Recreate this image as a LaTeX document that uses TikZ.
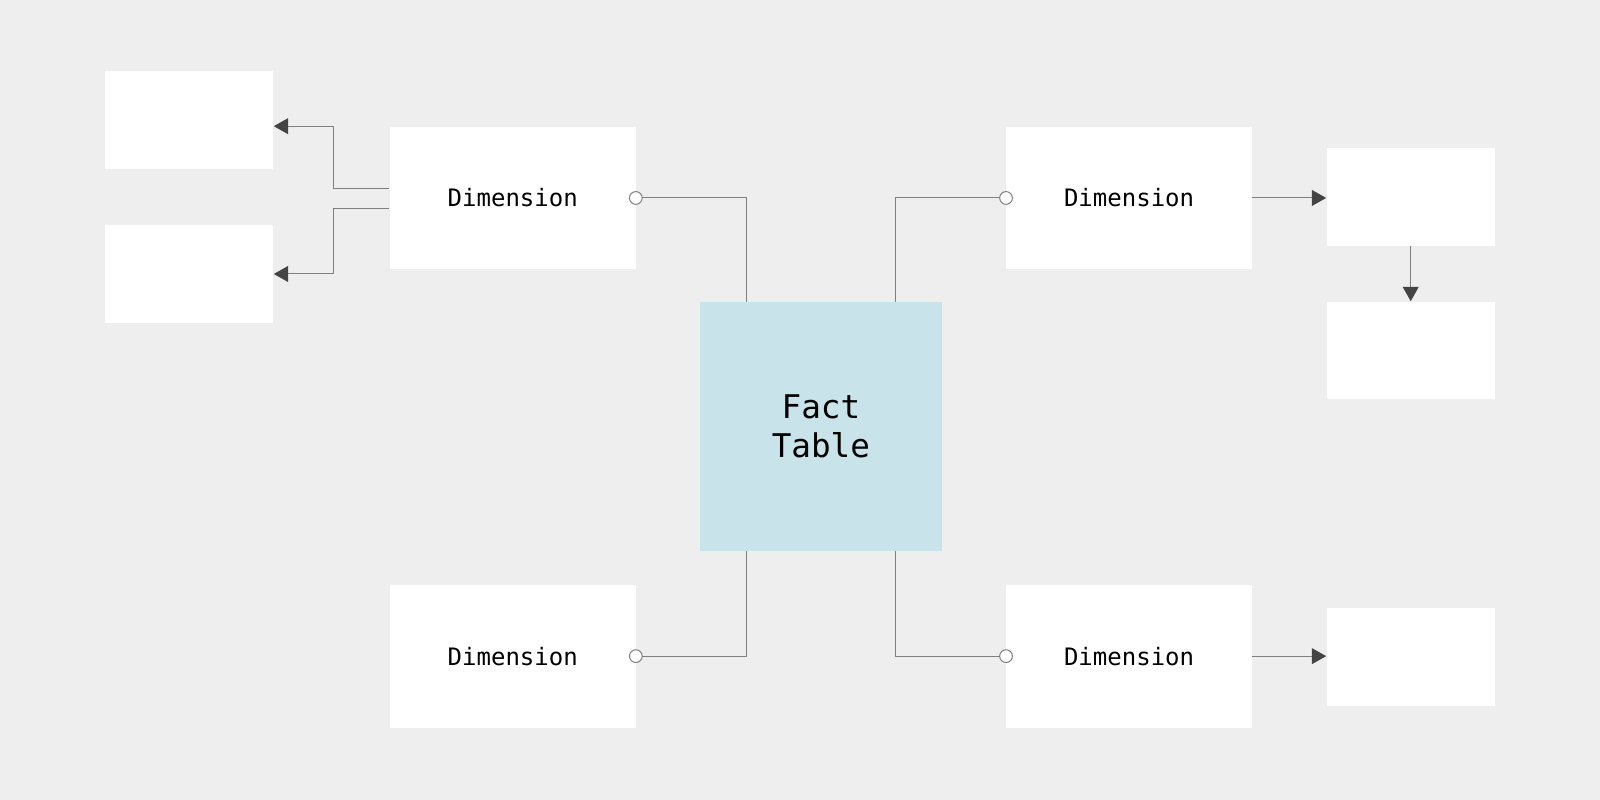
\documentclass[tikz,border=0pt]{standalone}
\usepackage{fontspec}
\setmonofont{DejaVu Sans Mono}
\usepackage{tikz}
\usetikzlibrary{arrows.meta, positioning}

\definecolor{bggray}{HTML}{EEEEEE}
\definecolor{factblue}{HTML}{C9E3EA}
\definecolor{linkgray}{HTML}{808080}
\definecolor{tipgray}{HTML}{444444}

\begin{document}
\begin{tikzpicture}[x=0.02cm, y=-0.02cm,
    dimbox/.style={fill=white, minimum width=4.82cm, minimum height=2.8cm, inner sep=0pt,
        font=\ttfamily\fontsize{13.4}{16}\selectfont, text=black},
    leafbox/.style={fill=white, minimum width=3.3cm, minimum height=1.92cm, inner sep=0pt},
    factbox/.style={fill=factblue, minimum width=4.74cm, minimum height=4.88cm, inner sep=0pt,
        align=center, font=\ttfamily\fontsize{18.2}{21.5}\selectfont, text=black},
    link/.style={draw=linkgray, line width=0.02cm,
        {Circle[fill=white, length=0.27cm, width=0.27cm, line width=0.02cm]}-},
    arr/.style={draw=linkgray, line width=0.02cm,
        -{Triangle[length=0.28cm, width=0.31cm, fill=tipgray, color=tipgray]}}]
        % Background
        \fill[bggray] (0,0) rectangle (1568,784);

        % Fact table and dimensions
        \node[factbox] (fact) at (804.5,418) {Fact\\Table};
        \node[dimbox] (dimTL) at (502.5,194) {Dimension};
        \node[dimbox] (dimTR) at (1106.5,194) {Dimension};
        \node[dimbox] (dimBL) at (502.5,643) {Dimension};
        \node[dimbox] (dimBR) at (1106.5,643) {Dimension};

        % Sub dimensions
        \node[leafbox] (leafA) at (185.5,118) {};
        \node[leafbox] (leafB) at (185.5,268.5) {};
        \node[leafbox] (leafC) at (1382.5,193) {};
        \node[leafbox] (leafD) at (1382.5,343.5) {};
        \node[leafbox] (leafE) at (1382.5,643.5) {};

        % Links to the fact table
        \draw[link] ([xshift=-0.14cm]dimTL.east) -| ([xshift=-1.46cm]fact.north);
        \draw[link] ([xshift=0.14cm]dimTR.west) -| ([xshift=1.46cm]fact.north);
        \draw[link] ([xshift=-0.14cm]dimBL.east) -| ([xshift=-1.46cm]fact.south);
        \draw[link] ([xshift=0.14cm]dimBR.west) -| ([xshift=1.46cm]fact.south);

        % Snowflake branches
        \draw[arr] ([yshift=0.18cm]dimTL.west) -- ++(-1.1cm,0) |- (leafA.east |- dimTL.north);
        \draw[arr] ([yshift=-0.2cm]dimTL.west) -- ++(-1.1cm,0) |- (leafB.east);
        \draw[arr] (dimTR.east) -- (dimTR.east -| leafC.west);
        \draw[arr] (leafC.south) -- (leafD.north);
        \draw[arr] (dimBR.east) -- (dimBR.east -| leafE.west);
    \end{tikzpicture}
\end{document}
